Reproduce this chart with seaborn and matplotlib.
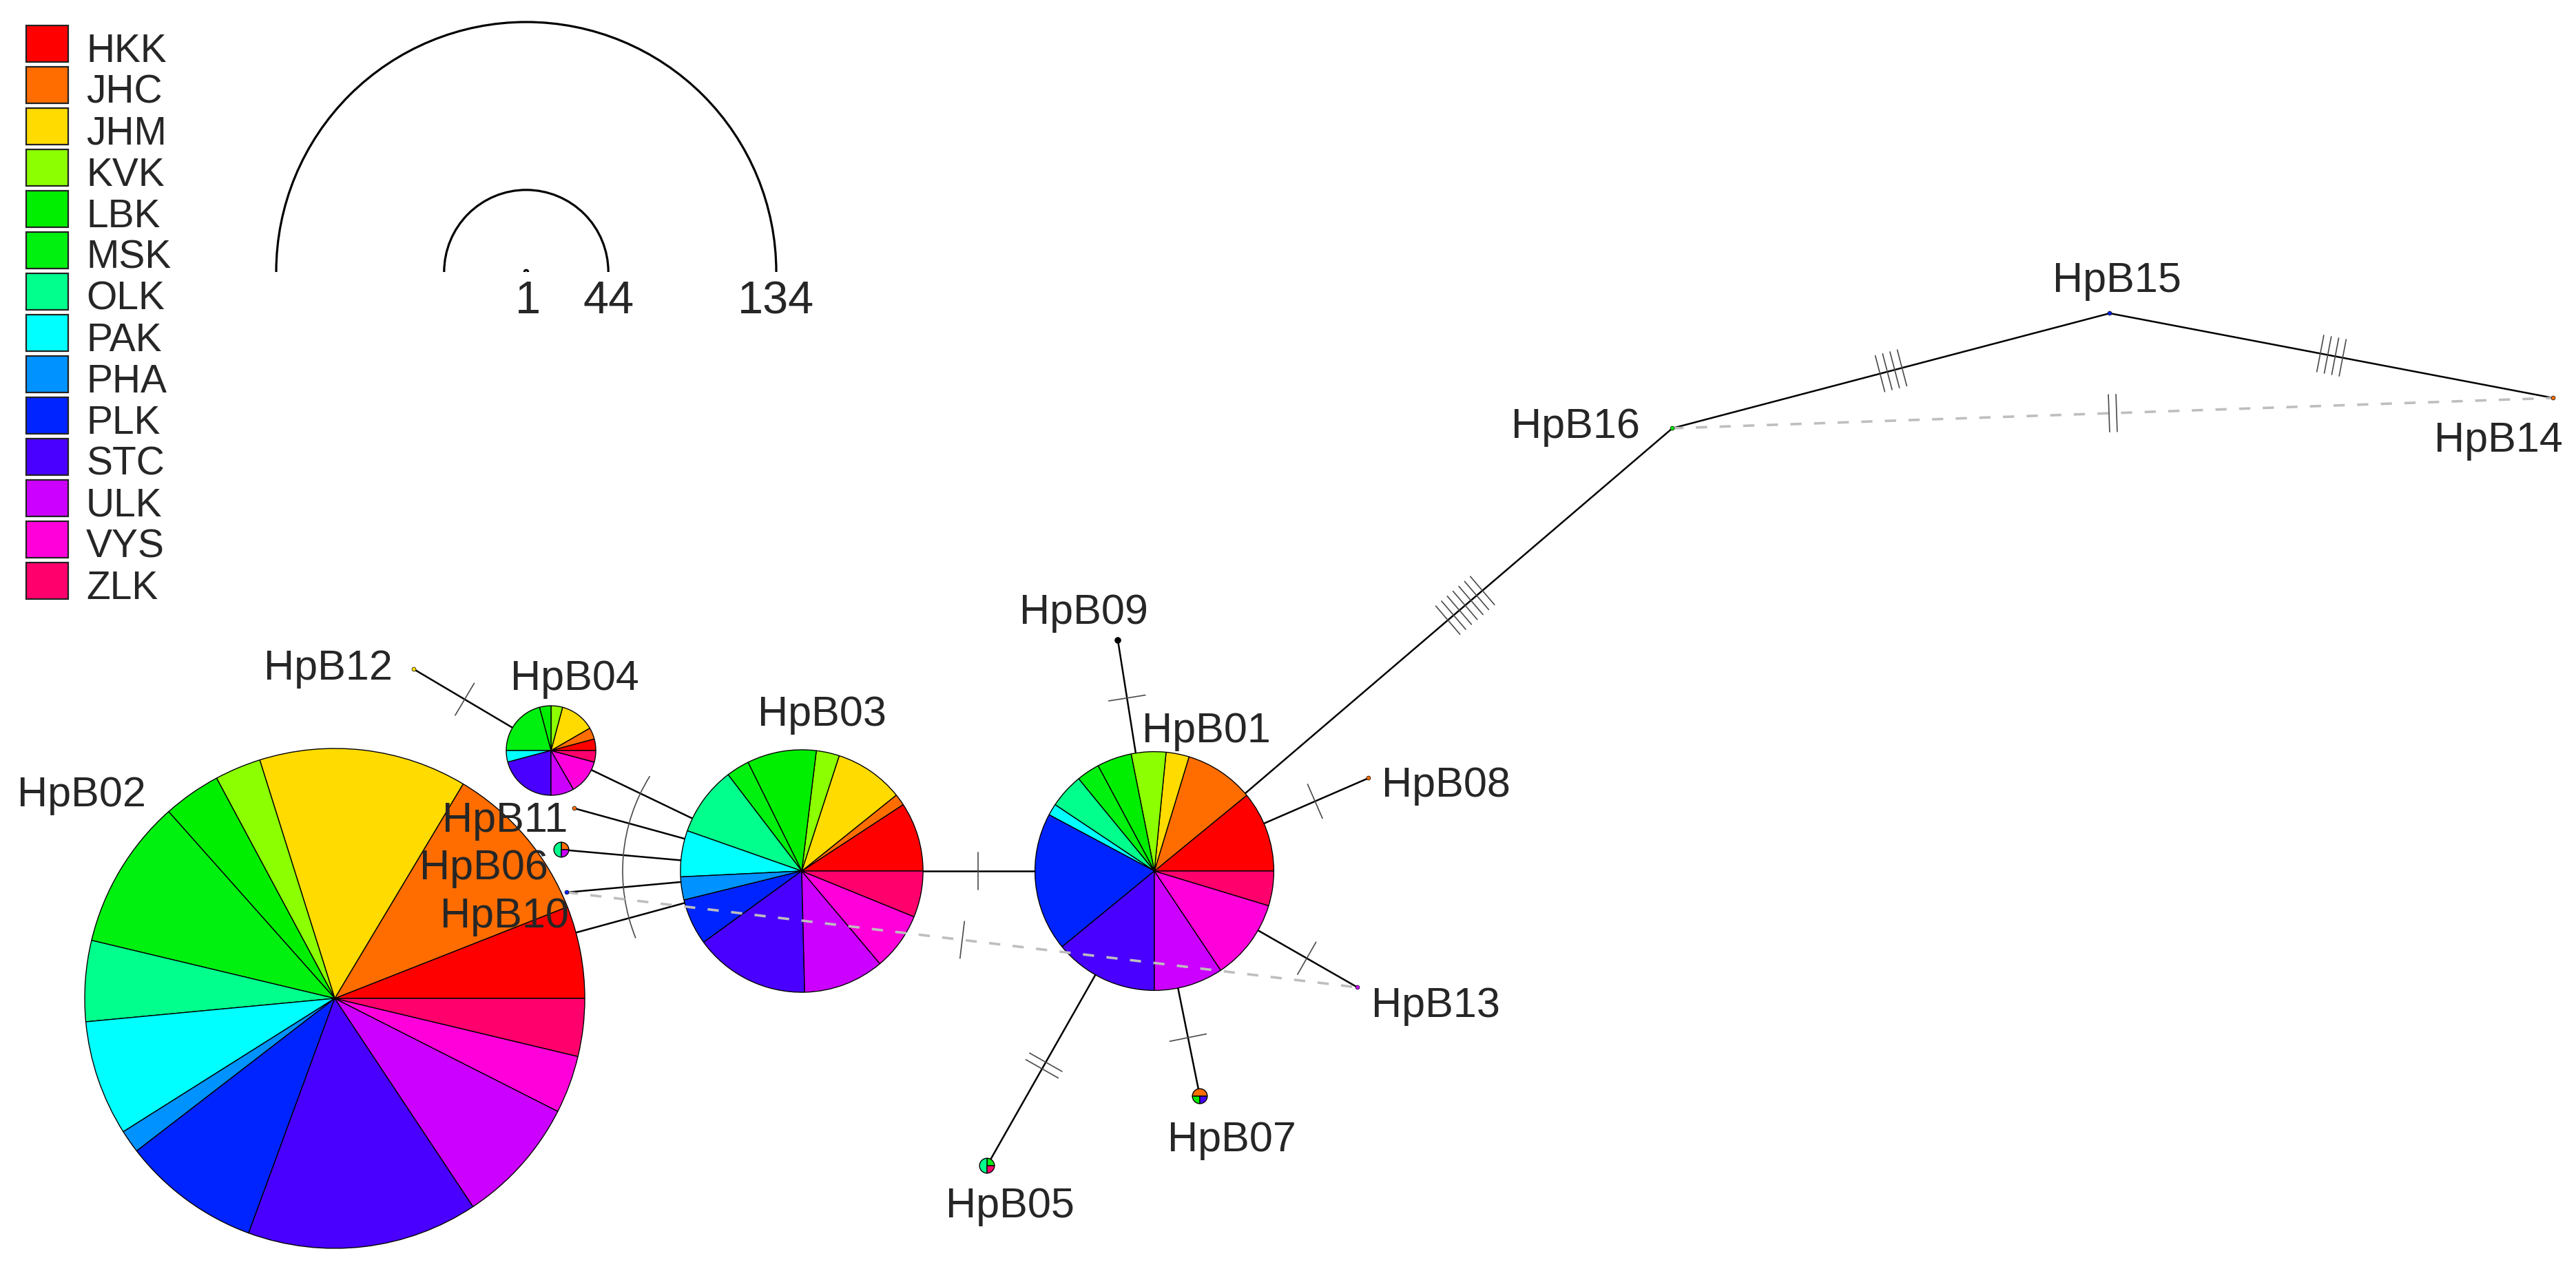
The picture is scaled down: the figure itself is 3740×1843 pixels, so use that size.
import matplotlib
matplotlib.use("Agg")
import matplotlib.pyplot as plt
from matplotlib.patches import Wedge, Rectangle, Arc
import numpy as np
import pandas as pd
import seaborn as sns

# ------------------------------------------------------------------
# data
# ------------------------------------------------------------------
populations = ["HKK", "JHC", "JHM", "KVK", "LBK", "MSK", "OLK",
               "PAK", "PHA", "PLK", "STC", "ULK", "VYS", "ZLK"]
pop_colors = ["#FF0000", "#FF6D00", "#FFDB00", "#8CFF00", "#00EE00", "#00F010",
              "#00FF8C", "#00FFFF", "#0092FF", "#0024FF", "#4900FF", "#CC00FF",
              "#FF00DB", "#FF006D"]

# individuals per population (same order as populations)
hpb01 = [7, 6, 2, 3, 3, 2, 3, 1, 0, 12, 9, 6, 7, 3]
hpb02 = [8, 14, 18, 4, 5, 13, 7, 10, 2, 12, 20, 11, 5, 5]
hpb03 = [6, 1, 6, 2, 6, 2, 6, 4, 2, 4, 10, 7, 5, 4]
hpb04 = [1, 1, 3, 1, 1, 5, 0, 1, 0, 0, 5, 2, 3, 1]
hpb05 = [0, 0, 0, 0, 0, 1, 2, 0, 0, 0, 0, 0, 0, 1]
hpb06 = [0, 1, 0, 0, 0, 0, 2, 0, 0, 0, 0, 1, 0, 0]
hpb07 = [0, 2, 0, 0, 1, 0, 0, 0, 0, 0, 1, 0, 0, 0]

# haplotypes found in a single individual
single_haps = ["HpB08", "HpB09", "HpB10", "HpB11", "HpB12",
               "HpB13", "HpB14", "HpB15", "HpB16"]
single_pops = ["JHC", "STC", "PLK", "JHC", "JHM", "ULK", "JHC", "PLK", "LBK"]

# network links: (from, to, mutation steps)
links = [("HpB02", "HpB03", 0), ("HpB04", "HpB03", 0), ("HpB11", "HpB03", 0),
         ("HpB06", "HpB03", 0), ("HpB10", "HpB03", 0), ("HpB12", "HpB04", 1),
         ("HpB03", "HpB01", 1), ("HpB01", "HpB09", 1), ("HpB01", "HpB08", 1),
         ("HpB01", "HpB13", 1), ("HpB01", "HpB07", 1), ("HpB01", "HpB05", 2),
         ("HpB01", "HpB16", 7), ("HpB16", "HpB15", 4), ("HpB15", "HpB14", 4)]
alt_links = [("HpB10", "HpB13", 1), ("HpB16", "HpB14", 2)]

size_legend = [1, 44, 134]

# ------------------------------------------------------------------
# layout (network coordinates, y downwards)
# ------------------------------------------------------------------
layout = {
    "HpB01": (1676, 1265), "HpB02": (486, 1450), "HpB03": (1164, 1265),
    "HpB04": (800, 1090), "HpB05": (1433, 1693), "HpB06": (815, 1234),
    "HpB07": (1742, 1592), "HpB08": (1987, 1130), "HpB09": (1623, 930),
    "HpB10": (823, 1296), "HpB11": (834, 1174), "HpB12": (601, 972),
    "HpB13": (1971, 1434), "HpB14": (3707, 578), "HpB15": (3063, 455),
    "HpB16": (2428, 622),
}
label_pos = {
    "HpB01": (1751, 1078), "HpB02": (119, 1171), "HpB03": (1194, 1054),
    "HpB04": (834, 1002), "HpB05": (1467, 1768), "HpB06": (702, 1277),
    "HpB07": (1788, 1672), "HpB08": (2099, 1157), "HpB09": (1573, 906),
    "HpB10": (732, 1347), "HpB11": (733, 1208), "HpB12": (477, 987),
    "HpB13": (2085, 1477), "HpB14": (3627, 656), "HpB15": (3074, 424),
    "HpB16": (2287, 636),
}
tick_frac = {("HpB12", "HpB04"): 0.37, ("HpB01", "HpB09"): 0.75,
             ("HpB01", "HpB08"): 0.75, ("HpB01", "HpB13"): 0.75,
             ("HpB01", "HpB07"): 0.74, ("HpB01", "HpB05"): 0.66,
             ("HpB01", "HpB16"): 0.6}

RADIUS_PER_IND = 363 / 134
W, H = 3741, 1843

sns.set_theme(style="white")
plt.rcParams["font.family"] = ["Liberation Sans", "DejaVu Sans"]

fig = plt.figure(figsize=(W / 100, H / 100), dpi=100)
ax = fig.add_axes([0, 0, 1, 1])


def draw_ticks(p0, p1, n, t, z):
    p0, p1 = np.array(p0, float), np.array(p1, float)
    d = p1 - p0
    u = d / np.linalg.norm(d)
    nv = np.array([-u[1], u[0]])
    c0 = p0 + t * d
    for i in range(n):
        c = c0 + u * (i - (n - 1) / 2) * 11
        a, b = c - nv * 27, c + nv * 27
        ax.plot([a[0], b[0]], [a[1], b[1]], color="#4a4a4a", lw=1.2, zorder=z)


def draw_pie(name, counts):
    x, y = layout[name]
    total = sum(counts)
    r = total * RADIUS_PER_IND
    start = 0.0
    for c, col in zip(counts, pop_colors):
        if c == 0:
            continue
        ext = 360.0 * c / total
        ax.add_patch(Wedge((x, y), r, -(start + ext), -start, facecolor=col,
                           edgecolor="black", lw=1.0, zorder=3))
        start += ext


# links
for a, b, n in links:
    (x0, y0), (x1, y1) = layout[a], layout[b]
    ax.plot([x0, x1], [y0, y1], color="black", lw=1.8, zorder=1)
    if n:
        draw_ticks(layout[a], layout[b], n, tick_frac.get((a, b), 0.5), 2)

for a, b, n in alt_links:
    (x0, y0), (x1, y1) = layout[a], layout[b]
    ax.plot([x0, x1], [y0, y1], color="#BEBEBE", lw=2.6, dashes=(4.5, 5), zorder=4)
    draw_ticks(layout[a], layout[b], n, 0.5, 4.5)

# shared mutation mark on the links entering HpB03 from the left
ax.add_patch(Arc(layout["HpB03"], 520, 520, theta1=158, theta2=212,
                 color="#4a4a4a", lw=1.2, zorder=2))

# pies
for name, counts in [("HpB02", hpb02), ("HpB03", hpb03), ("HpB01", hpb01),
                     ("HpB04", hpb04), ("HpB05", hpb05), ("HpB06", hpb06),
                     ("HpB07", hpb07)]:
    draw_pie(name, counts)

# single-individual haplotypes
single_df = pd.DataFrame({
    "hap": single_haps,
    "x": [layout[h][0] for h in single_haps],
    "y": [layout[h][1] for h in single_haps],
})
col_of = dict(zip(populations, pop_colors))
pal = {h: col_of[p] for h, p in zip(single_haps, single_pops)}
pal["HpB09"] = "black"
sizes = {h: 18 for h in single_haps}
sizes["HpB09"] = 40
sns.scatterplot(data=single_df, x="x", y="y", hue="hap", palette=pal,
                size="hap", sizes=sizes, edgecolor="black", linewidth=0.5,
                legend=False, ax=ax, zorder=5)

# node labels
for name, (lx, ly) in label_pos.items():
    ax.text(lx, ly, name, fontsize=44, ha="center", va="baseline", zorder=6)

# population legend
for i, (pop, col) in enumerate(zip(populations, pop_colors)):
    top = 37 + i * 60
    ax.add_patch(Rectangle((38, top), 61, 53, facecolor=col,
                           edgecolor="#222222", lw=1.6, zorder=6))
    ax.text(125, top + 53, pop, fontsize=41, ha="left", va="baseline", zorder=6)

# size legend
cx, cy = 764, 395
for n in size_legend:
    r = n * RADIUS_PER_IND
    ax.add_patch(Arc((cx, cy), 2 * r, 2 * r, theta1=180, theta2=360,
                     color="black", lw=2.3, zorder=6))
    ax.text(cx + r, 455, str(n), fontsize=48, ha="center", va="baseline", zorder=6)

ax.set_xlim(0, W)
ax.set_ylim(H, 0)
ax.set_aspect("equal")
ax.axis("off")
fig.savefig("out.png", dpi=100, facecolor="white")
